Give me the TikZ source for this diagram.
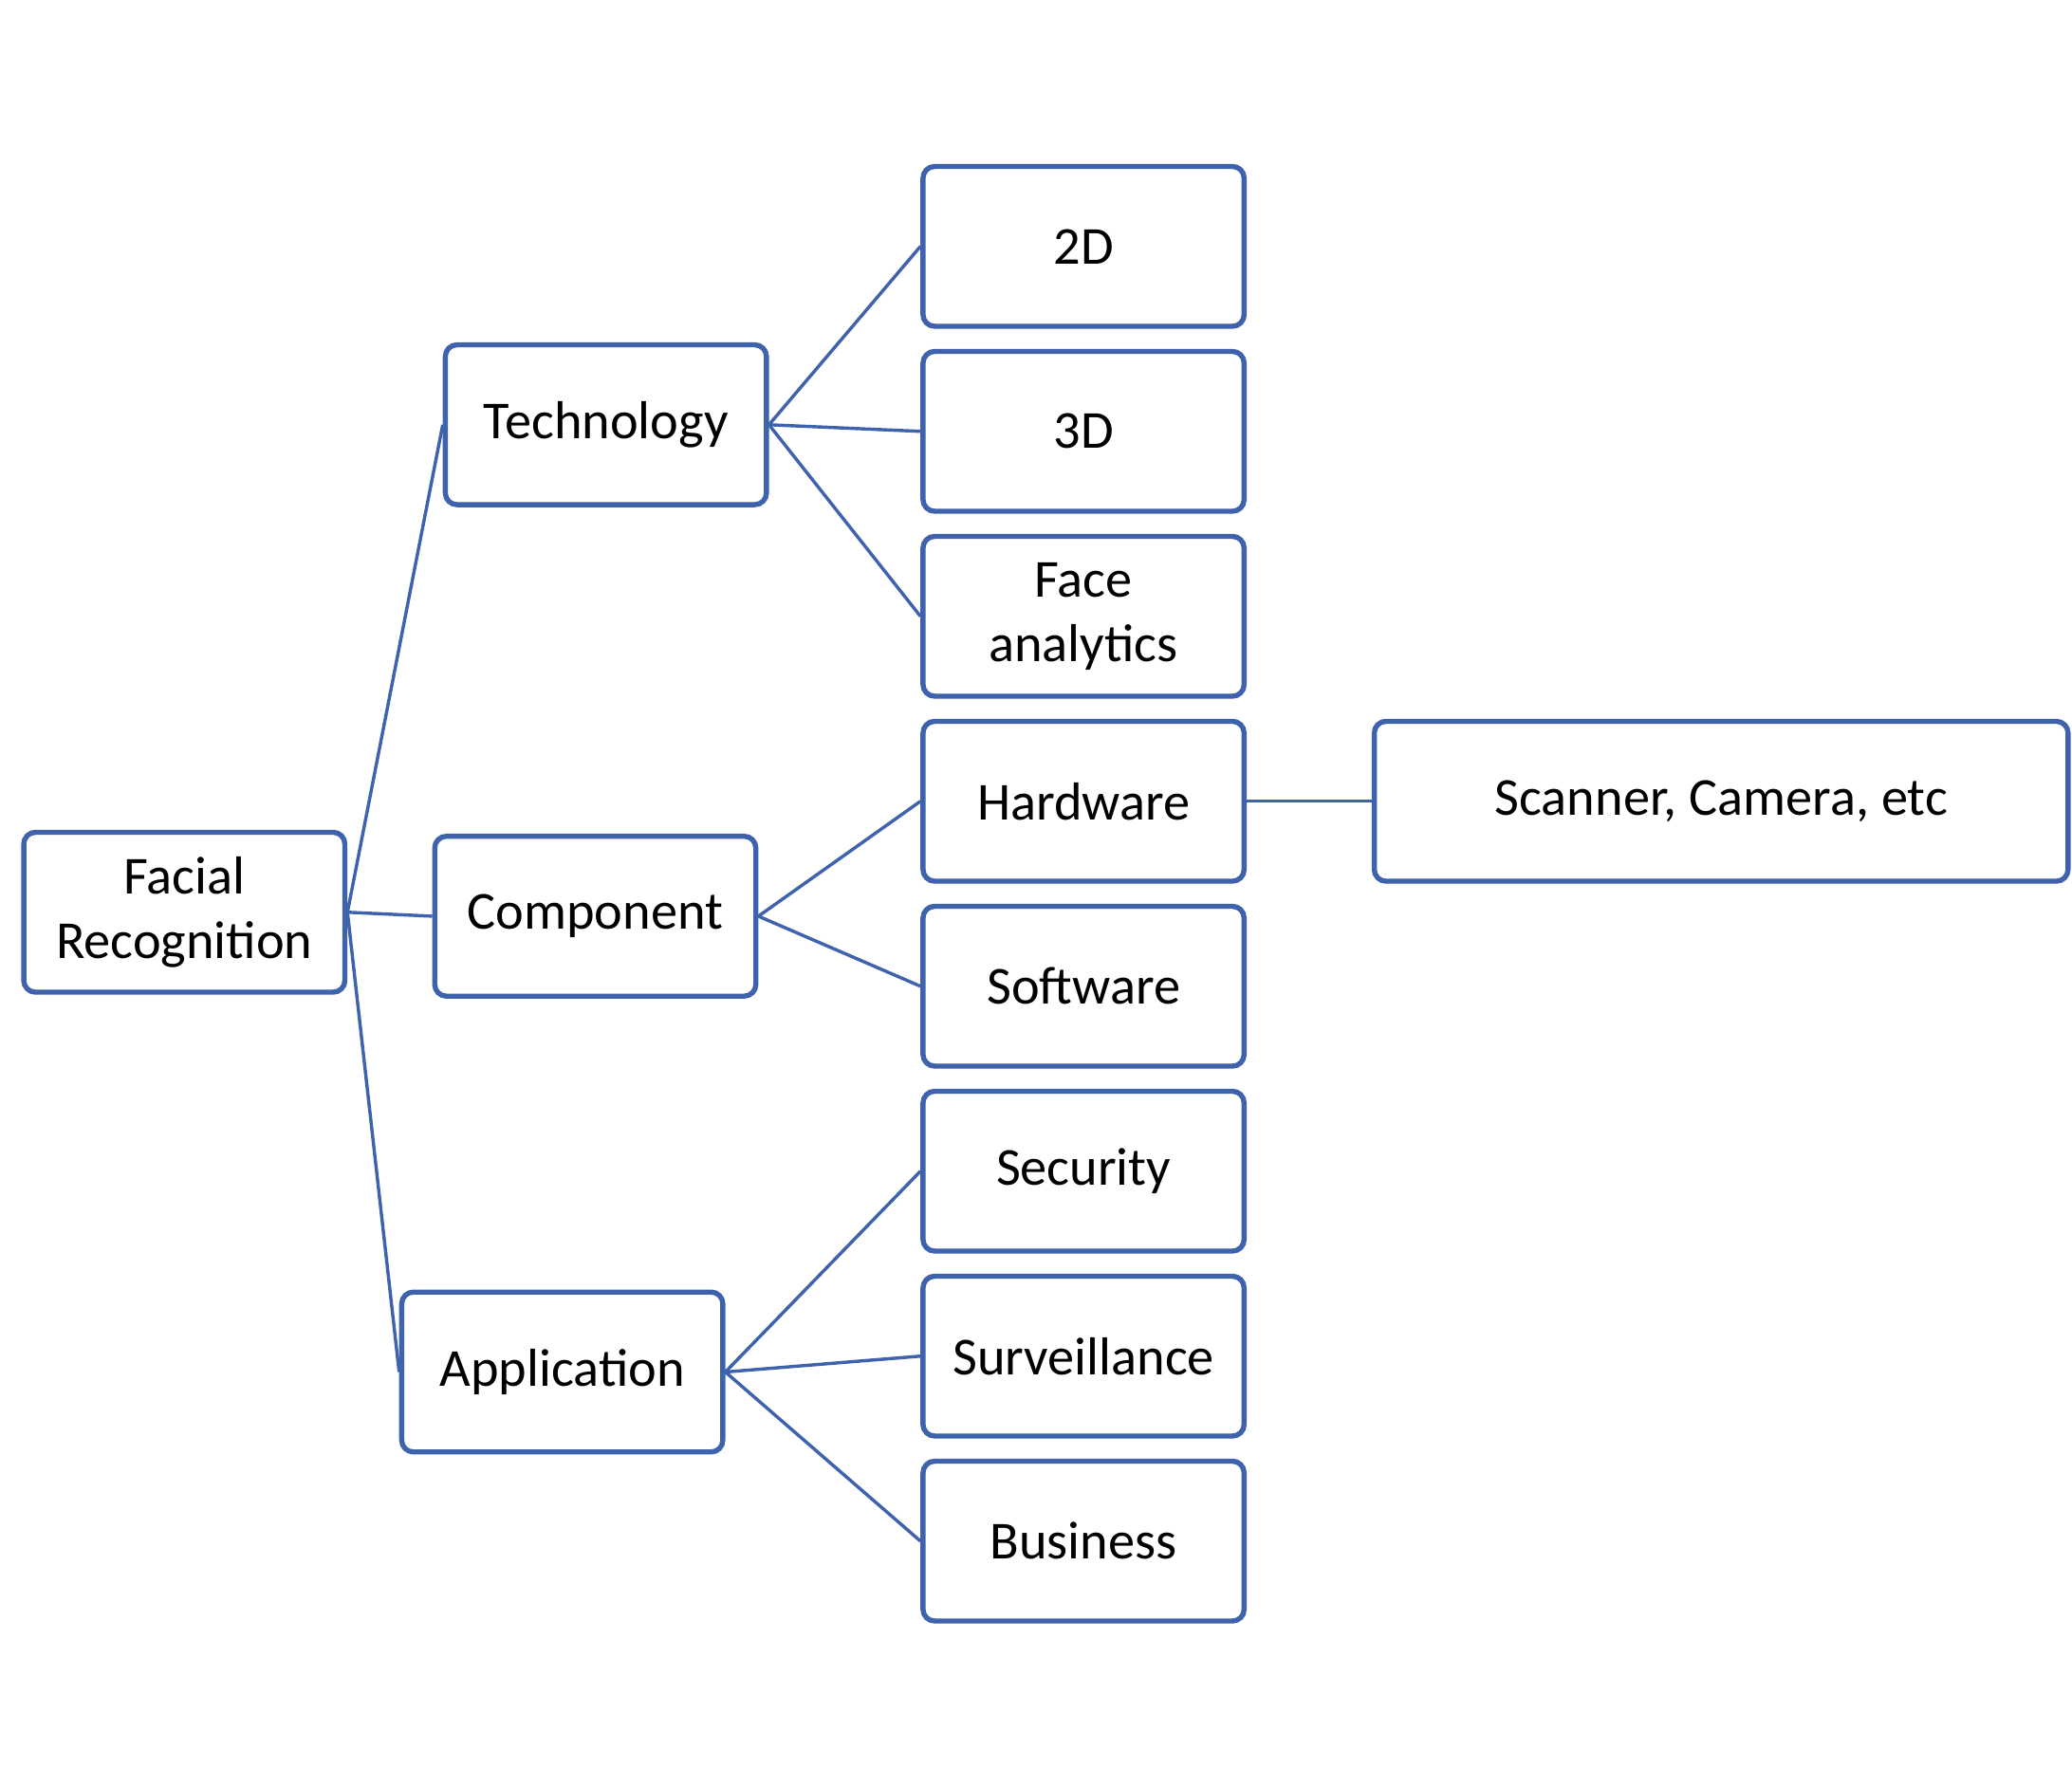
\documentclass[tikz,border=0pt]{standalone}
\usepackage{fontspec}
\setmainfont{Carlito}
\definecolor{bl}{HTML}{3F62AD}
\begin{document}
\begin{tikzpicture}[x=0.01cm,y=-0.01cm,
 box/.style={draw=bl,line width=1.1pt,rounded corners=2.5pt,fill=white,minimum width=243*0.01cm,minimum height=121*0.01cm,align=center,font=\fontsize{11.5pt}{14pt}\selectfont,inner sep=0pt},
 ln/.style={draw=bl,line width=0.7pt}]
\useasboundingbox (0,0) rectangle (1568,1352);
\node[box] (fr) at (139.5,690.5) {Facial\\Recognition};
\node[box] (te) at (458.5,321.5) {Technology};
\node[box] (co) at (450.5,693.5) {Component};
\node[box] (ap) at (425.5,1038.5) {Application};
\node[box] (d2) at (820,186.5) {2D};
\node[box] (d3) at (820,326.5) {3D};
\node[box] (fa) at (820,466.5) {Face\\analytics};
\node[box] (hw) at (820,606.5) {Hardware};
\node[box] (sw) at (820,746.5) {Software};
\node[box] (se) at (820,886.5) {Security};
\node[box] (su) at (820,1026.5) {Surveillance};
\node[box] (bu) at (820,1166.5) {Business};
\node[box,minimum width=525*0.01cm] (sc) at (1302.5,606.5) {Scanner, Camera, etc};
\foreach \a/\b in {fr/te,fr/co,fr/ap,te/d2,te/d3,te/fa,co/hw,co/sw,ap/se,ap/su,ap/bu,hw/sc}
  \draw[ln] (\a.east) -- (\b.west);
\end{tikzpicture}
\end{document}
